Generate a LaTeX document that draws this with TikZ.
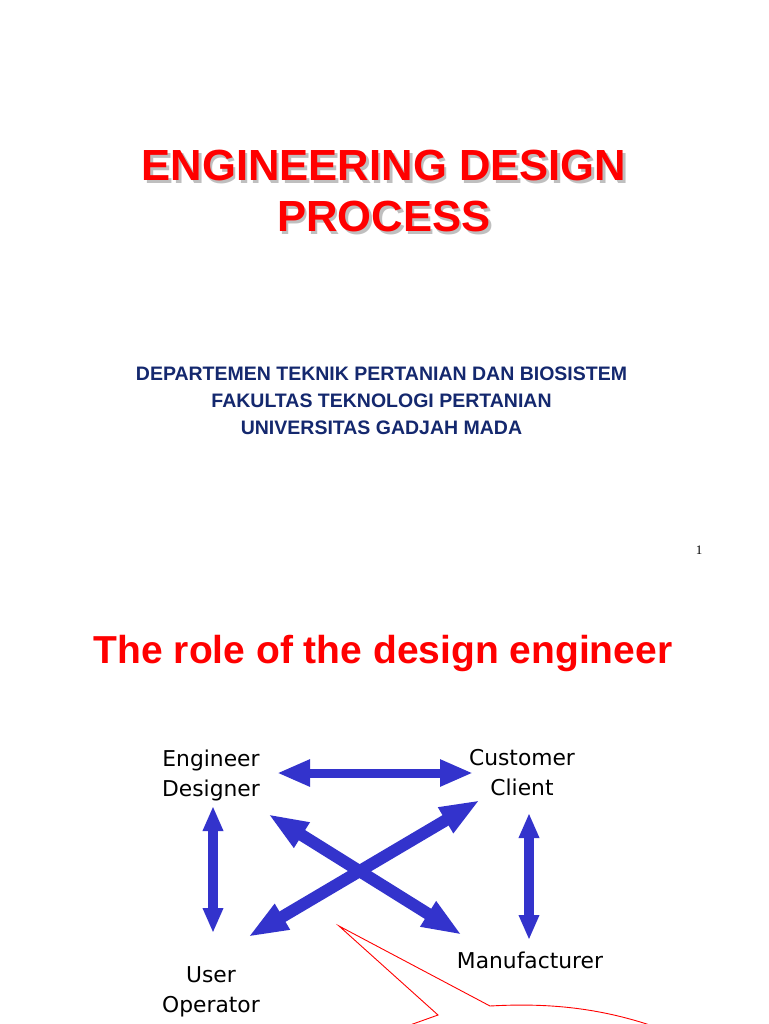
\documentclass[tikz,border=0pt]{standalone}
\usepackage{fontspec}
\setmainfont{Liberation Sans}
\newfontfamily\dejavu{DejaVu Sans}
\newfontfamily\serifnum{Liberation Serif}
\usetikzlibrary{arrows.meta}
\definecolor{arrowblue}{RGB}{51,51,204}
\definecolor{navy}{RGB}{20,40,110}

\begin{document}
\begin{tikzpicture}[x=1pt,y=-1pt,
    title node/.style={font=\fontsize{43.6}{51}\selectfont\bfseries,align=center,inner sep=0pt},
    sub node/.style={font=\fontsize{19.5}{27}\selectfont\bfseries,align=center,text=navy,inner sep=0pt},
    role node/.style={font=\dejavu\fontsize{21.8}{30}\selectfont,align=center,inner sep=0pt},
    link/.style n args={3}{draw=arrowblue,line width=#1,
      {Triangle[length=#2,width=#3]}-{Triangle[length=#2,width=#3]}}]

  \clip (0,0) rectangle (768,1024);
  \fill[white] (0,0) rectangle (768,1024);

  %slide 1%
  \node[title node,text=black!25] at (386.5,193.5) {ENGINEERING DESIGN\\PROCESS};
  \node[title node,text=red] (title) at (384,191) {ENGINEERING DESIGN\\PROCESS};
  \node[sub node] (dept) at (381.5,401)
    {DEPARTEMEN TEKNIK PERTANIAN DAN BIOSISTEM\\FAKULTAS TEKNOLOGI PERTANIAN\\UNIVERSITAS GADJAH MADA};
  \node[font=\serifnum\fontsize{13}{15}\selectfont,inner sep=0pt] (page) at (699,550) {1};

  %slide 2%
  \node[font=\fontsize{39}{45}\selectfont\bfseries,text=red,inner sep=0pt] (role) at (383,653)
    {The role of the design engineer};

  \node[role node] (eng) at (211,775) {Engineer\\Designer};
  \node[role node] (cust) at (522,773) {Customer\\Client};
  \node[role node] (user) at (211,992) {User\\Operator};
  \node[role node] (manuf) at (530,960) {Manufacturer};

  \draw[link={9pt}{33pt}{25pt}] ([shift={(66,-2)}]eng.center) -- ([shift={(-49,0)}]cust.center);
  \draw[link={10pt}{25pt}{19pt}] ([shift={(2,31)}]eng.center) -- ([shift={(2,-59)}]user.center);
  \draw[link={10pt}{25pt}{19pt}] ([shift={(7,40)}]cust.center) -- ([shift={(-1,-20)}]manuf.center);
  \draw[link={12pt}{40pt}{27pt}] ([shift={(57,39)}]eng.center) -- ([shift={(-68,-25)}]manuf.center);
  \draw[link={12pt}{40pt}{27pt}] ([shift={(-42,27)}]cust.center) -- ([shift={(37,-55)}]user.center);

  %callout%
  \draw[red,line width=0.9pt,line join=miter]
    (396,1030) -- (438,1015) -- (339,926) -- (490,1006)
    .. controls (560,1002) and (625,1010) .. (700,1045);
\end{tikzpicture}
\end{document}
